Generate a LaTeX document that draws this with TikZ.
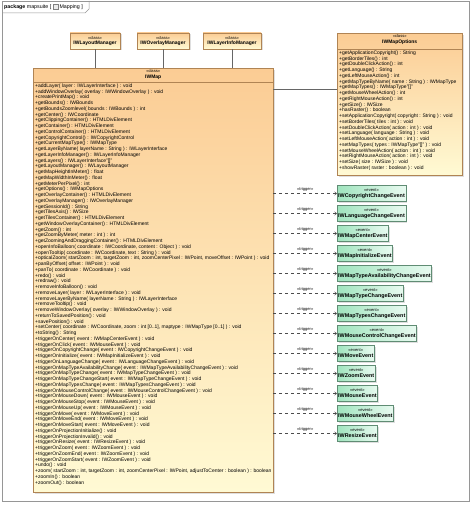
\documentclass[tikz,border=0pt]{standalone}
\usepackage{fontspec}
\setmainfont{Liberation Sans}
\usetikzlibrary{arrows.meta,positioning,calc,shadows}

\definecolor{clstop}{RGB}{251,204,148}
\definecolor{clsbot}{RGB}{255,250,212}
\definecolor{clsline}{RGB}{176,132,84}
\definecolor{evleft}{RGB}{160,228,190}
\definecolor{evright}{RGB}{232,250,240}
\definecolor{evline}{RGB}{96,140,116}
\definecolor{frameline}{RGB}{150,150,150}

\newcommand{\stereo}[1]{{\mdseries\fontsize{4.1}{5}\selectfont «#1»}}

\begin{document}
\begin{tikzpicture}[
  x=1pt, y=-1pt,
  font=\fontsize{5}{5.75}\selectfont,
  clsbox/.style={draw=clsline, line width=0.4pt, top color=clstop, bottom color=clsbot,
                 drop shadow={shadow xshift=1.5pt, shadow yshift=-1.5pt, fill=black!25},
                 inner sep=0pt},
  clshead/.style={align=center, inner sep=0.6pt, font=\fontsize{5}{5.7}\selectfont\bfseries},
  ops/.style={align=left, inner sep=0.5pt, anchor=north west},
  evbox/.style={draw=evline, line width=0.4pt, left color=evleft, right color=evright,
                drop shadow={shadow xshift=1.5pt, shadow yshift=-1.5pt, fill=black!25},
                align=center, anchor=west, inner xsep=1pt, inner ysep=0.4pt, minimum height=16pt,
                font=\fontsize{5.4}{5.8}\selectfont\bfseries},
  trig/.style={draw=black!70, line width=0.4pt, dash pattern=on 3pt off 3pt,
               -{Straight Barb[length=2.2pt,width=3.6pt]}},
  trigtext/.style={inner sep=0.5pt, font=\fontsize{4.1}{5}\selectfont},
  assoc/.style={draw=black!60, line width=0.4pt},
  icon/.style={draw=black!50, fill=black!8, minimum size=5pt, inner sep=0pt},
]
\useasboundingbox (0,0) rectangle (474,508);

% ---------- Package frame ----------
\draw[frameline, line width=0.8pt] (2,1) rectangle (469,501);
\draw[frameline, line width=0.5pt] (2,13) -- (85,13) -- (89,9) -- (89,1);
\node[anchor=west, inner sep=0pt, font=\fontsize{5.3}{6}\selectfont] (pkg) at (4,7) {\textbf{package} mapsuite [};
\node[icon, right=1.2pt of pkg] (pkgicon) {};
\node[right=1.2pt of pkgicon, inner sep=0pt, font=\fontsize{5.3}{6}\selectfont] (pkgdiag) {Mapping ]};

% ---------- Managers (top) ----------
\node[clsbox, clshead, minimum width=50pt, minimum height=16pt] (layout)    at (95,41)  {\stereo{class}\\IWLayoutManager};
\node[clsbox, clshead, minimum width=52pt, minimum height=16pt] (overlay)   at (163,41) {\stereo{class}\\IWOverlayManager};
\node[clsbox, clshead, minimum width=58pt, minimum height=16pt] (layerinfo) at (232,41) {\stereo{class}\\IWLayerInfoManager};

% ---------- IWMap ----------
\node[clsbox, minimum width=240pt, minimum height=424pt, anchor=north west] (map) at (33,68) {};
\node[clshead, anchor=north] (maphead) at ([yshift=-1pt]map.north) {\stereo{class}\\IWMap};
\draw[clsline, line width=0.4pt] ($(map.north west)+(0,14)$) -- ($(map.north east)+(0,14)$);
\node[ops] (mapops) at ($(map.north west)+(1.5,15)$) {%
+addLayer( layer : IWLayerInterface ) : void\\
+addWindowOverlay( overlay : IWWindowOverlay ) : void\\
+createPrintMap() : void\\
+getBounds() : IWBounds\\
+getBoundsZoomlevel( bounds : IWBounds ) : int\\
+getCenter() : IWCoordinate\\
+getClippingContainer() : HTMLDivElement\\
+getContainer() : HTMLDivElement\\
+getControlContainer() : HTMLDivElement\\
+getCopyrightControl() : IWCopyrightControl\\
+getCurrentMapType() : IWMapType\\
+getLayerByName( layerName : String ) : IWLayerInterface\\
+getLayerInfoManager() : IWLayerInfoManager\\
+getLayers() : IWLayerInterface"[]"\\
+getLayoutManager() : IWLayoutManager\\
+getMapHeightInMeter() : float\\
+getMapWidthInMeter() : float\\
+getMeterPerPixel() : int\\
+getOptions() : IWMapOptions\\
+getOverlayContainer() : HTMLDivElement\\
+getOverlayManager() : IWOverlayManager\\
+getSessionId() : String\\
+getTilesAxis() : IWSize\\
+getTilesContainer() : HTMLDivElement\\
+getWindowOverlayContainer() : HTMLDivElement\\
+getZoom() : int\\
+getZoomByMeter( meter : int ) : int\\
+getZoomingAndDraggingContainer() : HTMLDivElement\\
+openInfoBalloon( coordinate : IWCoordinate, content : Object ) : void\\
+openTooltip( coordinate : IWCoordinate, text : String ) : void\\
+opticalZoom( startZoom : int, targetZoom : int, zoomCenterPixel : IWPoint, moveOffset : IWPoint ) : void\\
+panByOffset( offset : IWPoint ) : void\\
+panTo( coordinate : IWCoordinate ) : void\\
+redo() : void\\
+redraw() : void\\
+removeInfoBalloon() : void\\
+removeLayer( layer : IWLayerInterface ) : void\\
+removeLayerByName( layerName : String ) : IWLayerInterface\\
+removeTooltip() : void\\
+removeWindowOverlay( overlay : IWWindowOverlay ) : void\\
+returnToSavedPosition() : void\\
+savePosition() : void\\
+setCenter( coordinate : IWCoordinate, zoom : int [0..1], maptype : IWMapType [0..1] ) : void\\
+toString() : String\\
+triggerOnCenter( event : IWMapCenterEvent ) : void\\
+triggerOnClick( event : IWMouseEvent ) : void\\
+triggerOnCopyrightChange( event : IWCopyrightChangeEvent ) : void\\
+triggerOnInitialize( event : IWMapInitializeEvent ) : void\\
+triggerOnLanguageChange( event : IWLanguageChangeEvent ) : void\\
+triggerOnMapTypeAvailabilityChange( event : IWMapTypeAvailabilityChangeEvent ) : void\\
+triggerOnMapTypeChange( event : IWMapTypeChangeEvent ) : void\\
+triggerOnMapTypeChangeStart( event : IWMapTypeChangeEvent ) : void\\
+triggerOnMapTypesChange( event : IWMapTypesChangeEvent ) : void\\
+triggerOnMouseControlChange( event : IWMouseControlChangeEvent ) : void\\
+triggerOnMouseDown( event : IWMouseEvent ) : void\\
+triggerOnMouseStop( event : IWMouseEvent ) : void\\
+triggerOnMouseUp( event : IWMouseEvent ) : void\\
+triggerOnMove( event : IWMoveEvent ) : void\\
+triggerOnMoveEnd( event : IWMoveEvent ) : void\\
+triggerOnMoveStart( event : IWMoveEvent ) : void\\
+triggerOnProjectionInitialize() : void\\
+triggerOnProjectionInvalid() : void\\
+triggerOnResize( event : IWResizeEvent ) : void\\
+triggerOnZoom( event : IWZoomEvent ) : void\\
+triggerOnZoomEnd( event : IWZoomEvent ) : void\\
+triggerOnZoomStart( event : IWZoomEvent ) : void\\
+undo() : void\\
+zoom( startZoom : int, targetZoom : int, zoomCenterPixel : IWPoint, adjustToCenter : boolean ) : boolean\\
+zoomIn() : boolean\\
+zoomOut() : boolean};

\draw[assoc] (layout)    -- (layout |- map.north);
\draw[assoc] (overlay)   -- (overlay |- map.north);
\draw[assoc] (layerinfo) -- (layerinfo |- map.north);

% ---------- IWMapOptions ----------
\node[clsbox, minimum width=125pt, minimum height=142pt, anchor=north west] (opts) at (337,33) {};
\node[clshead, anchor=north] (optshead) at ([yshift=-1pt]opts.north) {\stereo{class}\\IWMapOptions};
\draw[clsline, line width=0.4pt] ($(opts.north west)+(0,16)$) -- ($(opts.north east)+(0,16)$);
\node[ops] (optsops) at ($(opts.north west)+(1.5,17)$) {%
+getApplicationCopyright() : String\\
+getBorderTiles() : int\\
+getDoubleClickAction() : int\\
+getLanguage() : String\\
+getLeftMouseAction() : int\\
+getMapTypeByName( name : String ) : IWMapType\\
+getMapTypes() : IWMapType"[]"\\
+getMouseWheelAction() : int\\
+getRightMouseAction() : int\\
+getSize() : IWSize\\
+hasRaster() : boolean\\
+setApplicationCopyright( copyright : String ) : void\\
+setBorderTiles( tiles : int ) : void\\
+setDoubleClickAction( action : int ) : void\\
+setLanguage( language : String ) : void\\
+setLeftMouseAction( action : int ) : void\\
+setMapTypes( types : IWMapType"[]" ) : void\\
+setMouseWheelAction( action : int ) : void\\
+setRightMouseAction( action : int ) : void\\
+setSize( size : IWSize ) : void\\
+showRaster( raster : boolean ) : void};

\coordinate (optsend) at ($(opts.north west)+(0,56)$);
\draw[assoc] (map.east |- optsend) -- (optsend);

% ---------- Events ----------
\foreach \name [count=\i from 0] in {IWCopyrightChangeEvent, IWLanguageChangeEvent,
    IWMapCenterEvent, IWMapInitializeEvent, IWMapTypeAvailabilityChangeEvent,
    IWMapTypeChangeEvent, IWMapTypesChangeEvent, IWMouseControlChangeEvent,
    IWMoveEvent, IWZoomEvent, IWMouseEvent, IWMouseWheelEvent, IWResizeEvent}{
  \node[evbox] (ev\i) at (337,193.5+20*\i) {\stereo{event}\\\name};
  \draw[trig] (map.east |- ev\i.west) -- (ev\i.west)
    node[midway, above=1pt, trigtext] {\stereo{trigger}};
}

\end{tikzpicture}
\end{document}
